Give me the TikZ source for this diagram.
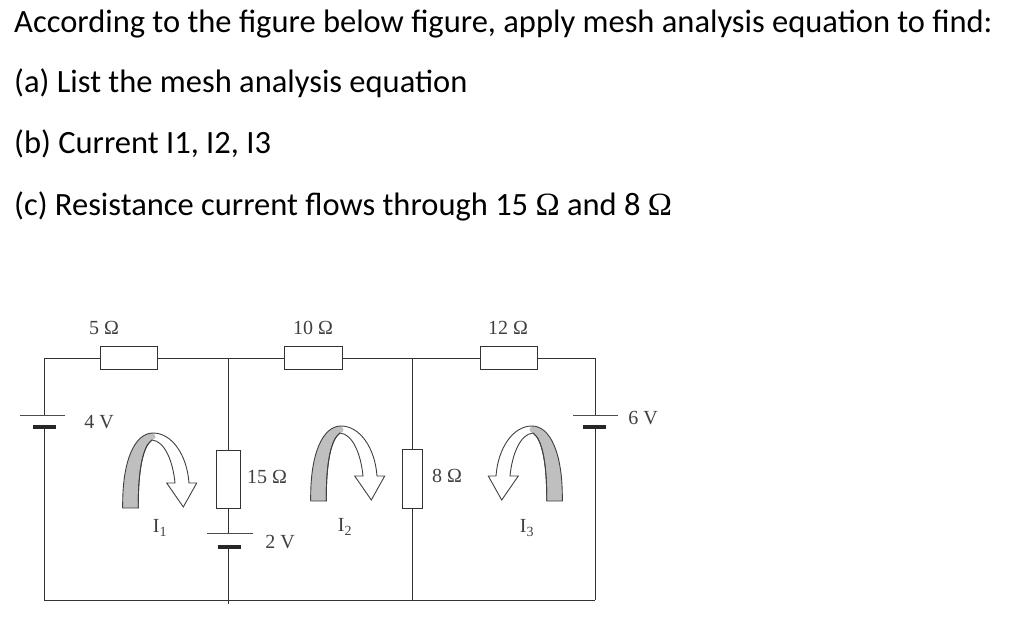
\documentclass[tikz,border=0pt]{standalone}
\usepackage{fontspec}
\setmainfont{Carlito}
\newfontfamily\circfont{Liberation Serif}
\begin{document}
\begin{tikzpicture}[x=1pt,y=-1pt,
  wire/.style={line width=1pt,black!80},
  res/.style={draw=black!80,line width=0.9pt,fill=white},
  txt/.style={anchor=base west,font=\fontsize{32.5}{36}\selectfont,inner sep=0},
  lab/.style={font=\circfont\fontsize{20}{22}\selectfont,text=black!75,inner sep=0},
  plate/.style={line width=1pt,black!70},
  thick plate/.style={line width=3.5pt,black!85},
  band/.style={draw=black!75,line width=0.9pt}]
\useasboundingbox (0,0) rectangle (1024,631);
\node[txt] (t1) at (14,33) {According to the figure below figure, apply mesh analysis equation to find:};
\node[txt] (t2) at (14,93) {(a) List the mesh analysis equation};
\node[txt] (t3) at (14,154) {(b) Current I1, I2, I3};
\node[txt] (t4) at (14,215) {(c) Resistance current flows through 15 {\circfont Ω} and 8 {\circfont Ω}};
% corners
\coordinate (tl) at (44,358); \coordinate (bl) at (44,600);
\coordinate (ta) at (228,358); \coordinate (ba) at (228,600);
\coordinate (tb) at (412,358); \coordinate (bb) at (412,600);
\coordinate (tr) at (595,358); \coordinate (br) at (595,600);
\draw[wire] (tl) -- (tr) (bl) -- (br) (tr) -- (br) (tl) -- (bl) (ta) -- (228,604) (tb) -- (bb);
% resistors
\node[res,minimum width=57,minimum height=23,inner sep=0] (r5) at (128.5,358) {};
\node[res,minimum width=58,minimum height=23,inner sep=0] (r10) at (313,358) {};
\node[res,minimum width=57,minimum height=23,inner sep=0] (r12) at (508.5,358) {};
\node[res,minimum width=24,minimum height=58,inner sep=0] (r15) at (228,479) {};
\node[res,minimum width=20,minimum height=59,inner sep=0] (r8) at (412,478.5) {};
% batteries
\fill[white] (20,416) rectangle (68,426);
\draw[plate] (20,415) -- (65,415); \draw[thick plate] (33,427) -- (56,427);
\fill[white] (205,534) rectangle (255,546);
\draw[plate] (207,533) -- (253,533); \draw[thick plate] (218,547) -- (241,547);
\fill[white] (573,416) rectangle (620,426);
\draw[plate] (573,415) -- (618,415); \draw[thick plate] (583,427) -- (606,427);
% labels
\node[lab] (l5) at (104,328) {5 Ω};
\node[lab] (l10) at (313,328) {10 Ω};
\node[lab] (l12) at (508,328) {12 Ω};
\node[lab] (l15) at (267,477) {15 Ω};
\node[lab] (l8) at (447,476) {8 Ω};
\node[lab] (l4v) at (99,422) {4 V};
\node[lab] (l2v) at (280,542) {2 V};
\node[lab] (l6v) at (643,418) {6 V};
\node[lab] (i1) at (160,528) {I\textsubscript{1}};
\node[lab] (i2) at (345,527) {I\textsubscript{2}};
\node[lab] (i3) at (527,528) {I\textsubscript{3}};
% curved arrows
\def\arrowshape{(122.7,508) .. controls (122,460) and (135,433) .. (153,433) .. controls (172,433) and (187,455) .. (189,483) -- (196.7,483) -- (183.3,507) -- (166.7,483) -- (175,483) .. controls (173,462) and (165,441) .. (152,440) .. controls (143,446) and (138,470) .. (138.3,508) -- cycle}
\def\grayshape{(122.7,508) .. controls (122,460) and (135,433) .. (153,433) .. controls (156,436) and (157,438) .. (152,440) .. controls (143,446) and (138,470) .. (138.3,508) -- cycle}
\foreach \dx/\dy/\xs in {0/0/1, 188/-7/1, 685/-7/-1}{
  \begin{scope}[shift={(\dx,\dy)},xscale=\xs]
  \fill[white] \arrowshape;
  \fill[black!25] \grayshape;
  \draw[band] \arrowshape;
  \draw[band] (152,440) .. controls (143,446) and (138,470) .. (138.3,508);
  \end{scope}
}
\end{tikzpicture}
\end{document}
